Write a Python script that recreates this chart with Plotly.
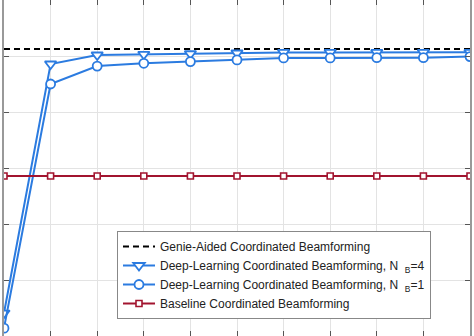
import plotly.graph_objects as go

x = list(range(11))
genie = [5.125] * 11
dl_nb4 = [0.41, 4.857, 5.018, 5.03, 5.04, 5.054, 5.063, 5.063, 5.063, 5.063, 5.065]
dl_nb1 = [0.14, 4.50, 4.82, 4.87, 4.90, 4.93, 4.965, 4.965, 4.97, 4.97, 4.99]
baseline = [2.857] * 11

names = [
    "Genie-Aided Coordinated Beamforming",
    "Deep-Learning Coordinated Beamforming, N &nbsp;<sub>B</sub>=4",
    "Deep-Learning Coordinated Beamforming, N &nbsp;<sub>B</sub>=1",
    "Baseline Coordinated Beamforming",
]

blue = "#2b7be0"
red = "#a2142f"

fig = go.Figure()
fig.add_trace(go.Scatter(x=x, y=genie, mode="lines", name=names[0],
                         line=dict(color="black", width=2, dash="6px,4px")))
fig.add_trace(go.Scatter(x=x, y=dl_nb4, mode="lines+markers", name=names[1],
                         line=dict(color=blue, width=2),
                         marker=dict(symbol="triangle-down", size=10, color="white",
                                     line=dict(color=blue, width=1.8))))
fig.add_trace(go.Scatter(x=x, y=dl_nb1, mode="lines+markers", name=names[2],
                         line=dict(color=blue, width=2),
                         marker=dict(symbol="circle", size=9, color="white",
                                     line=dict(color=blue, width=1.8))))
fig.add_trace(go.Scatter(x=x, y=baseline, mode="lines+markers", name=names[3],
                         line=dict(color=red, width=2),
                         marker=dict(symbol="square", size=6, color="white",
                                     line=dict(color=red, width=1.6))))

fig.update_layout(
    width=474, height=336,
    margin=dict(l=4, r=4, t=0, b=0),
    paper_bgcolor="white", plot_bgcolor="white",
    font=dict(family="Liberation Sans, Arial", size=12, color="#222"),
    xaxis=dict(range=[0, 10], dtick=1, showticklabels=False,
               showgrid=True, gridcolor="#e3e3e3", gridwidth=1,
               ticks="inside", ticklen=5, tickcolor="#555", mirror="ticks",
               showline=False, zeroline=False),
    yaxis=dict(range=[0, 6], dtick=1, showticklabels=False,
               showgrid=True, gridcolor="#e3e3e3", gridwidth=1,
               ticks="inside", ticklen=5, tickcolor="#555", mirror="ticks",
               showline=True, linecolor="#999", linewidth=2, zeroline=False),
    legend=dict(x=(117 - 4) / 466, y=(336 - 231) / 336, xanchor="left", yanchor="top",
                bgcolor="white", bordercolor="#888", borderwidth=1,
                itemwidth=32, tracegroupgap=0,
                font=dict(family="Liberation Sans, Arial", size=12, color="#222")),
    showlegend=True,
)

fig.write_html("out.html")
